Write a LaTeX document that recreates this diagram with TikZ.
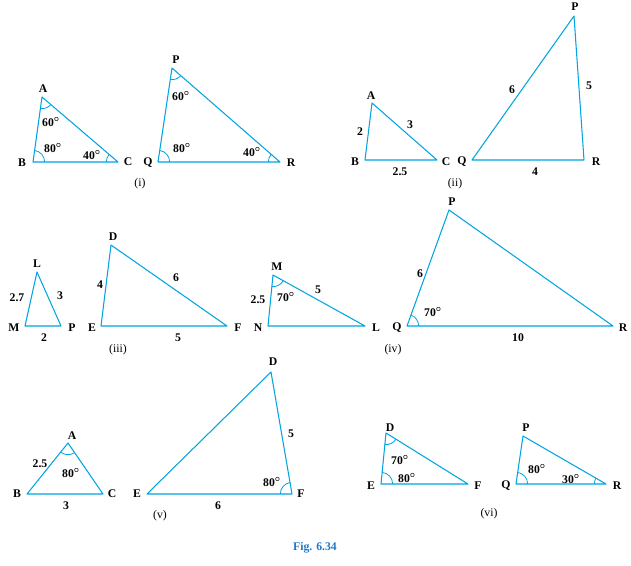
\documentclass[tikz,border=0pt]{standalone}
\usepackage{fontspec}
\setmainfont{Liberation Serif}
\usetikzlibrary{angles}
\definecolor{tri}{RGB}{0,165,225}
\definecolor{figc}{RGB}{30,120,200}
\tikzset{x=0.03cm,y=-0.03cm,
 edge/.style={draw=tri,line width=0.9pt,line join=round},
 lab/.style={font=\bfseries\normalsize,inner sep=1pt},
 ang/.style={draw=tri,line width=0.7pt,angle radius=0.35cm},
 captxt/.style={font=\normalsize,inner sep=1pt}}
\newcommand{\dg}{$^{\boldsymbol{\circ}}$}
\usepackage{amsmath}
\begin{document}
\begin{tikzpicture}
\useasboundingbox (0,0) rectangle (631,566);
% (i)
\coordinate (iA) at (42,97); \coordinate (iB) at (33,162); \coordinate (iC) at (118,162);
\draw[edge] (iA)--(iB)--(iC)--cycle;
\pic[ang]{angle=iB--iA--iC}; \pic[ang]{angle=iC--iB--iA}; \pic[ang]{angle=iA--iC--iB};
\node[lab] (lA) at (43,89) {A}; \node[lab] (lB) at (22,163) {B}; \node[lab] (lC) at (128,162) {C};
\node[lab] (a1) at (51,122) {60\dg}; \node[lab] (a2) at (53,148) {80\dg}; \node[lab] (a3) at (92,155) {40\dg};
\coordinate (iP) at (172,68); \coordinate (iQ) at (158,162); \coordinate (iR) at (280,162);
\draw[edge] (iP)--(iQ)--(iR)--cycle;
\pic[ang]{angle=iQ--iP--iR}; \pic[ang]{angle=iR--iQ--iP}; \pic[ang]{angle=iP--iR--iQ};
\node[lab] (lP) at (176,60) {P}; \node[lab] (lQ) at (148,163) {Q}; \node[lab] (lR) at (291,163) {R};
\node[lab] (a4) at (181,96) {60\dg}; \node[lab] (a5) at (182,148) {80\dg}; \node[lab] (a6) at (252,152) {40\dg};
\node[captxt] (c1) at (140,184) {(i)};
% (ii)
\coordinate (jA) at (372,103); \coordinate (jB) at (365,160); \coordinate (jC) at (437,160);
\draw[edge] (jA)--(jB)--(jC)--cycle;
\node[lab] (mA) at (371,96) {A}; \node[lab] (mB) at (355,162) {B}; \node[lab] (mC) at (446,162) {C};
\node[lab] (b1) at (360,132) {2}; \node[lab] (b2) at (410,125) {3}; \node[lab] (b3) at (400,172) {2.5};
\coordinate (jP) at (574,16); \coordinate (jQ) at (472,160); \coordinate (jR) at (584,160);
\draw[edge] (jP)--(jQ)--(jR)--cycle;
\node[lab] (mP) at (575,7) {P}; \node[lab] (mQ) at (462,162) {Q}; \node[lab] (mR) at (596,162) {R};
\node[lab] (b4) at (512,90) {6}; \node[lab] (b5) at (589,86) {5}; \node[lab] (b6) at (535,172) {4};
\node[captxt] (c2) at (455,184) {(ii)};
% (iii)
\coordinate (kL) at (37,272); \coordinate (kM) at (25,326); \coordinate (kP) at (61,326);
\draw[edge] (kL)--(kM)--(kP)--cycle;
\node[lab] (nL) at (37,264) {L}; \node[lab] (nM) at (14,328) {M}; \node[lab] (nP) at (72,328) {P};
\node[lab] (d1) at (17,298) {2.7}; \node[lab] (d2) at (60,296) {3}; \node[lab] (d3) at (44,338) {2};
\coordinate (kD) at (111,245); \coordinate (kE) at (101,326); \coordinate (kF) at (227,326);
\draw[edge] (kD)--(kE)--(kF)--cycle;
\node[lab] (nD) at (113,237) {D}; \node[lab] (nE) at (92,328) {E}; \node[lab] (nF) at (238,328) {F};
\node[lab] (d4) at (100,285) {4}; \node[lab] (d5) at (176,278) {6}; \node[lab] (d6) at (178,338) {5};
\node[captxt] (c3) at (118,350) {(iii)};
% (iv)
\coordinate (lM) at (273,275); \coordinate (lN) at (268,326); \coordinate (lL) at (365,326);
\draw[edge] (lM)--(lN)--(lL)--cycle;
\pic[ang]{angle=lN--lM--lL};
\node[lab] (oM) at (277,267) {M}; \node[lab] (oN) at (258,328) {N}; \node[lab] (oL) at (376,328) {L};
\node[lab] (e1) at (258,300) {2.5}; \node[lab] (e2) at (286,297) {70\dg}; \node[lab] (e3) at (318,290) {5};
\coordinate (lP) at (449,210); \coordinate (lQ) at (407,326); \coordinate (lR) at (613,326);
\draw[edge] (lP)--(lQ)--(lR)--cycle;
\pic[ang]{angle=lR--lQ--lP};
\node[lab] (oP) at (452,202) {P}; \node[lab] (oQ) at (397,328) {Q}; \node[lab] (oR) at (623,328) {R};
\node[lab] (e4) at (420,274) {6}; \node[lab] (e5) at (433,312) {70\dg}; \node[lab] (e6) at (518,338) {10};
\node[captxt] (c4) at (393,350) {(iv)};
% (v)
\coordinate (vA) at (68,443); \coordinate (vB) at (27,494); \coordinate (vC) at (103,494);
\draw[edge] (vA)--(vB)--(vC)--cycle;
\pic[ang]{angle=vB--vA--vC};
\node[lab] (pA) at (72,436) {A}; \node[lab] (pB) at (17,494) {B}; \node[lab] (pC) at (112,494) {C};
\node[lab] (f1) at (40,464) {2.5}; \node[lab] (f2) at (71,473) {80\dg}; \node[lab] (f3) at (66,506) {3};
\coordinate (vD) at (271,372); \coordinate (vE) at (147,494); \coordinate (vF) at (292,494);
\draw[edge] (vD)--(vE)--(vF)--cycle;
\pic[ang]{angle=vD--vF--vE};
\node[lab] (pD) at (273,362) {D}; \node[lab] (pE) at (137,494) {E}; \node[lab] (pF) at (301,494) {F};
\node[lab] (f4) at (291,434) {5}; \node[lab] (f5) at (272,482) {80\dg}; \node[lab] (f6) at (218,506) {6};
\node[captxt] (c5) at (160,516) {(v)};
% (vi)
\coordinate (wD) at (386,433); \coordinate (wE) at (381,484); \coordinate (wF) at (468,484);
\draw[edge] (wD)--(wE)--(wF)--cycle;
\pic[ang]{angle=wE--wD--wF}; \pic[ang]{angle=wF--wE--wD};
\node[lab] (qD) at (390,428) {D}; \node[lab] (qE) at (371,486) {E}; \node[lab] (qF) at (478,486) {F};
\node[lab] (g1) at (400,460) {70\dg}; \node[lab] (g2) at (407,478) {80\dg};
\coordinate (wP) at (523,436); \coordinate (wQ) at (516,484); \coordinate (wR) at (606,484);
\draw[edge] (wP)--(wQ)--(wR)--cycle;
\pic[ang]{angle=wR--wQ--wP}; \pic[ang]{angle=wP--wR--wQ};
\node[lab] (qP) at (526,428) {P}; \node[lab] (qQ) at (506,486) {Q}; \node[lab] (qR) at (617,486) {R};
\node[lab] (g3) at (537,469) {80\dg}; \node[lab] (g4) at (571,479) {30\dg};
\node[captxt] (c6) at (489,514) {(vi)};
\node[font=\bfseries\normalsize,text=figc] (fig) at (315,548) {Fig. 6.34};
\end{tikzpicture}
\end{document}
